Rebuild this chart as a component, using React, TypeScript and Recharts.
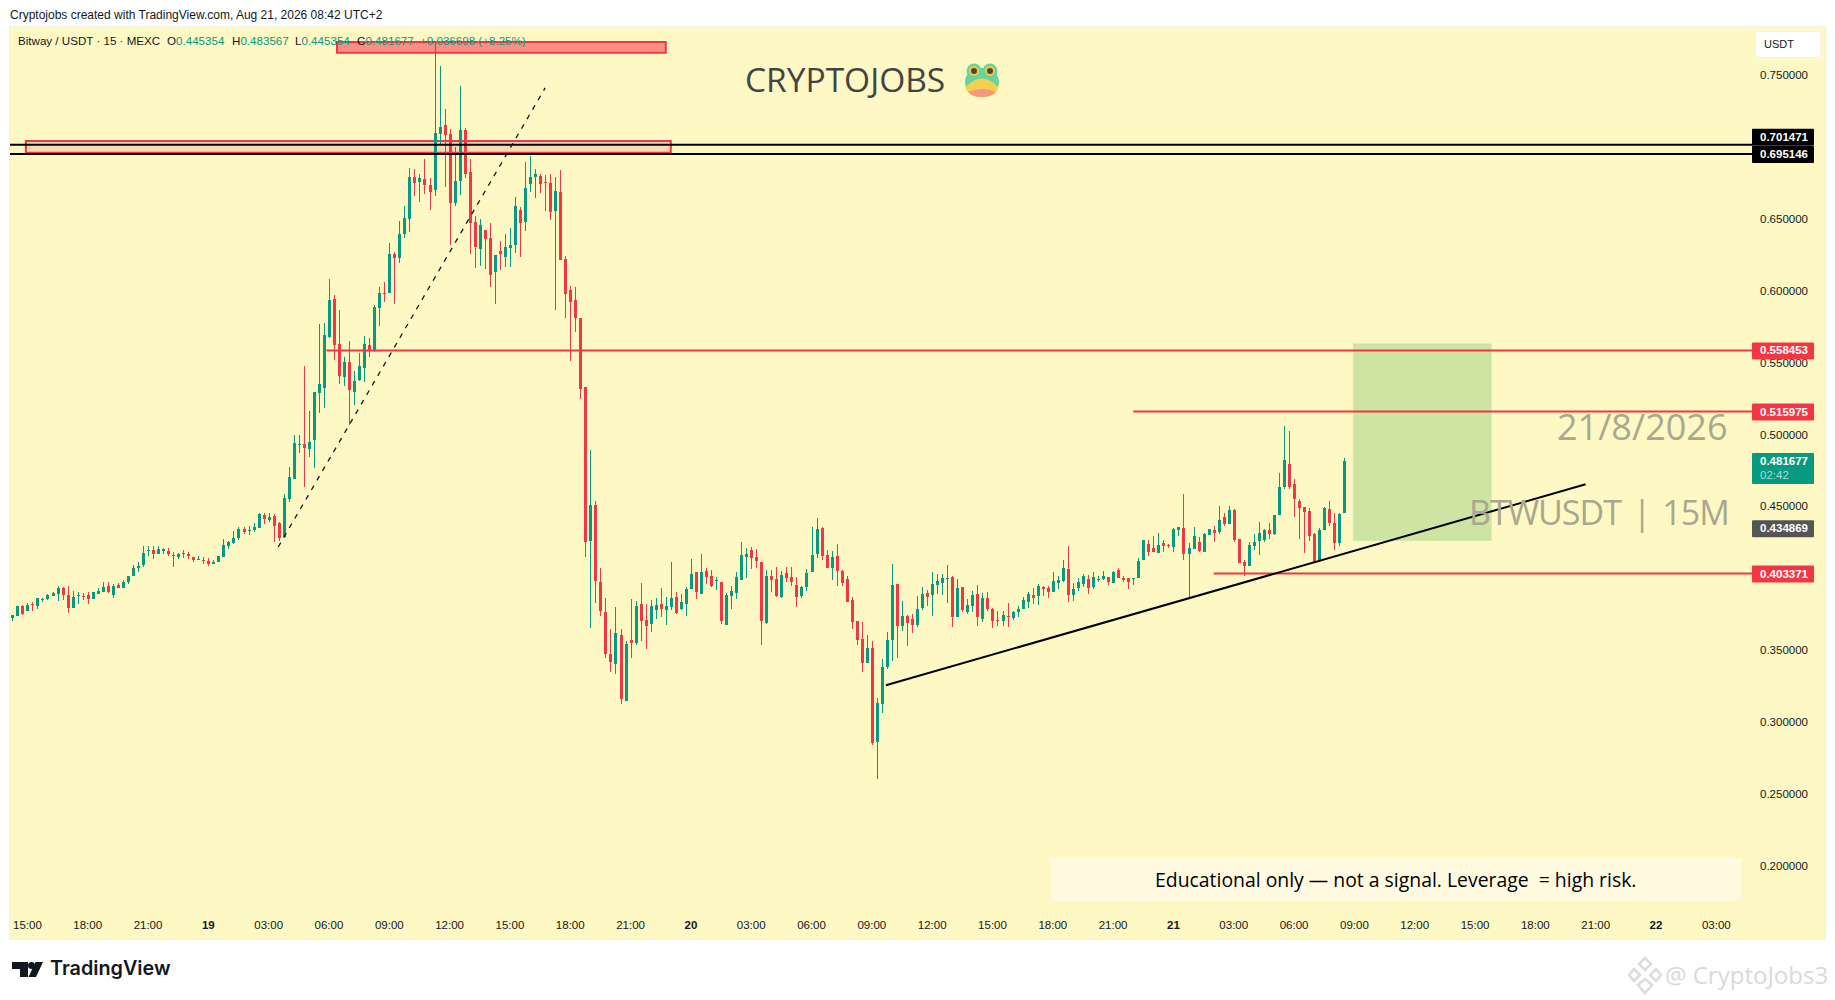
import {
  Bar,
  ComposedChart,
  ReferenceArea,
  ReferenceLine,
  XAxis,
  YAxis,
} from 'recharts';

// BTW/USDT 15m candles. Slot 0 is Aug 18 15:00.
const opens = [
  .3725, .3738, .3808, .3773, .3822, .3808, .3850, .3857, .3877, .3891,
  .3933, .3884, .3794, .3877, .3877, .3884, .3857, .3891, .3905, .3947,
  .3884, .3954, .3933, .3975, .4017, .4072, .4093, .4191, .4198, .4170,
  .4191, .4191, .4163, .4149, .4177, .4170, .4149, .4128, .4128, .4121,
  .4100, .4114, .4149, .4225, .4246, .4281, .4343, .4330, .4337, .4350,
  .4441, .4406, .4434, .4385, .4288, .4552, .4691, .4927, .4934, .4900,
  .4962, .5289, .5324, .5678, .5943, .5630, .5400, .5504, .5296, .5379,
  .5463, .5622, .5581, .5880, .5984, .5984, .6255, .6228, .6394, .6499,
  .6791, .6756, .6777, .6735, .6700, .7090, .7152, .7090, .6610, .6763,
  .7118, .6826, .6478, .6290, .6422, .6367, .6130, .6276, .6235, .6297,
  .6318, .6561, .6478, .6742, .6791, .6798, .6756, .6749, .6554, .6687,
  .6221, .6005, .5936, .5810, .5331, .4260, .4510, .3975, .3766, .3474,
  .3404, .3606, .3147, .3571, .3550, .3822, .3711, .3683, .3780, .3822,
  .3780, .3801, .3871, .3787, .3822, .3926, .4045, .3891, .4052, .4017,
  .3982, .3975, .3676, .3877, .3898, .3989, .4149, .4198, .4149, .4114,
  .3690, .4017, .3996, .3871, .4038, .4010, .3954, .3877, .3940, .4045,
  .4170, .4350, .4163, .4072, .4156, .4052, .3996, .3850, .3704, .3578,
  .3411, .3516, .2862, .3126, .3384, .3571, .3961, .3669, .3738, .3718,
  .3676, .3794, .3898, .3884, .3954, .3968, .3996, .4010, .3731, .3940,
  .3766, .3808, .3891, .3718, .3864, .3787, .3711, .3704, .3738, .3725,
  .3766, .3787, .3836, .3884, .3877, .3940, .3933, .3905, .3968, .3982,
  .4065, .3884, .3933, .3961, .3996, .3940, .3989, .3996, .4010, .3968,
  .4058, .4003, .4003, .3996, .4003, .4128, .4239, .4211, .4177, .4246,
  .4232, .4218, .4337, .4350, .4170, .4204, .4253, .4184, .4302, .4337,
  .4323, .4427, .4378, .4475, .4274, .4114, .4086, .4225, .4260, .4267,
  .4337, .4309, .4441, .4635, .4795, .4656, .4538, .4496, .4468, .4309,
  .4128, .4337, .4482, .4385, .4246, .445354,
];

const highs = [
  .3745, .3808, .3815, .3829, .3836, .3864, .3864, .3891, .3905, .3947,
  .3940, .3947, .3912, .3905, .3898, .3905, .3905, .3933, .3975, .3975,
  .3961, .3968, .3989, .4017, .4093, .4114, .4225, .4225, .4225, .4225,
  .4211, .4211, .4184, .4177, .4198, .4184, .4149, .4156, .4149, .4142,
  .4128, .4156, .4274, .4260, .4330, .4357, .4357, .4364, .4385, .4455,
  .4455, .4455, .4448, .4392, .4587, .4774, .4997, .4997, .5477, .5164,
  .5296, .5769, .5776, .6082, .5970, .5866, .5539, .5651, .5442, .5567,
  .5685, .5671, .5901, .6026, .6061, .6332, .6269, .6485, .6589, .6853,
  .6846, .6812, .6916, .6784, .7736, .7563, .7264, .7125, .7000, .7424,
  .7132, .6916, .6520, .6499, .6422, .6471, .6248, .6346, .6394, .6436,
  .6652, .6582, .6895, .6937, .6846, .6812, .6805, .6812, .6791, .6839,
  .6242, .6033, .6026, .5810, .5331, .4893, .4538, .4072, .3864, .3648,
  .3801, .3648, .3564, .3857, .3843, .3968, .3822, .3850, .3864, .3933,
  .3871, .4114, .3905, .3891, .3940, .4135, .4045, .4170, .4072, .4058,
  .4010, .3975, .3898, .3947, .4045, .4253, .4211, .4218, .4204, .4114,
  .4058, .4058, .4079, .4052, .4079, .4079, .4010, .3947, .4065, .4357,
  .4420, .4357, .4198, .4191, .4239, .4058, .4017, .3871, .3704, .3697,
  .3606, .3564, .3168, .3439, .3627, .4100, .3961, .3843, .3745, .3752,
  .3877, .3940, .3919, .4045, .4031, .4031, .4093, .4017, .3996, .3940,
  .3857, .3912, .3954, .3898, .3905, .3794, .3773, .3773, .3829, .3773,
  .3808, .3871, .3905, .3933, .3961, .3947, .3947, .4045, .4017, .4128,
  .4225, .3968, .4003, .4031, .4024, .4045, .4017, .4052, .4010, .4052,
  .4072, .4017, .4003, .4003, .4142, .4267, .4267, .4295, .4316, .4267,
  .4239, .4350, .4357, .4587, .4246, .4357, .4288, .4316, .4343, .4364,
  .4503, .4455, .4503, .4482, .4274, .4128, .4253, .4309, .4392, .4343,
  .4385, .4441, .4733, .5060, .5025, .4691, .4552, .4496, .4489, .4316,
  .4350, .4496, .4538, .4455, .4455, .483567,
];

const lows = [
  .3704, .3738, .3745, .3773, .3773, .3787, .3836, .3850, .3877, .3843,
  .3850, .3759, .3794, .3822, .3850, .3822, .3857, .3891, .3905, .3898,
  .3864, .3933, .3933, .3961, .4017, .4045, .4079, .4156, .4135, .4170,
  .4170, .4156, .4079, .4135, .4142, .4135, .4114, .4128, .4100, .4086,
  .4100, .4114, .4149, .4204, .4239, .4267, .4309, .4302, .4323, .4350,
  .4378, .4392, .4253, .4260, .4281, .4531, .4691, .4872, .4635, .4844,
  .4767, .5150, .5185, .5671, .5518, .5351, .5338, .5067, .5206, .5372,
  .5365, .5539, .5574, .5755, .5922, .5984, .5908, .6193, .6367, .6408,
  .6659, .6617, .6673, .6561, .6659, .7013, .6721, .6318, .6589, .6666,
  .6784, .6255, .6158, .6172, .6151, .6026, .5908, .6144, .6165, .6165,
  .6262, .6235, .6415, .6687, .6645, .6680, .6554, .6492, .5866, .6214,
  .5810, .5511, .5713, .5247, .4149, .3655, .3829, .3738, .3446, .3349,
  .3335, .3126, .3147, .3446, .3537, .3564, .3509, .3627, .3718, .3731,
  .3676, .3780, .3752, .3780, .3738, .3926, .3857, .3891, .3961, .3940,
  .3919, .3683, .3676, .3787, .3857, .3989, .4003, .4065, .4072, .3537,
  .3683, .3905, .3871, .3864, .3975, .3947, .3801, .3864, .3912, .4045,
  .4142, .4128, .4072, .3989, .3947, .3947, .3836, .3648, .3537, .3349,
  .3411, .2841, .2605, .3064, .3370, .3425, .3446, .3634, .3530, .3620,
  .3662, .3780, .3808, .3738, .3891, .3884, .3829, .3662, .3731, .3766,
  .3752, .3766, .3669, .3697, .3773, .3655, .3669, .3669, .3662, .3711,
  .3731, .3787, .3794, .3822, .3815, .3877, .3864, .3905, .3926, .3975,
  .3836, .3843, .3912, .3940, .3891, .3926, .3975, .3989, .3954, .3968,
  .4003, .3975, .3926, .3954, .4003, .4128, .4156, .4184, .4177, .4184,
  .4211, .4184, .4295, .4128, .3864, .4204, .4184, .4184, .4302, .4253,
  .4309, .4364, .4378, .4253, .4107, .4017, .4086, .4198, .4163, .4253,
  .4274, .4302, .4441, .4621, .4621, .4427, .4274, .4177, .4260, .4107,
  .4114, .4337, .4364, .4198, .4225, .445354,
];

const closes = [
  .3745, .3808, .3752, .3815, .3815, .3864, .3857, .3884, .3898, .3933,
  .3884, .3794, .3871, .3884, .3871, .3857, .3905, .3912, .3940, .3905,
  .3947, .3933, .3975, .4017, .4072, .4086, .4177, .4198, .4170, .4204,
  .4204, .4170, .4156, .4170, .4170, .4156, .4128, .4135, .4121, .4100,
  .4114, .4156, .4232, .4253, .4281, .4343, .4323, .4337, .4357, .4448,
  .4413, .4427, .4364, .4281, .4559, .4705, .4941, .4934, .4907, .4948,
  .5296, .5351, .5692, .5936, .5622, .5407, .5504, .5310, .5372, .5477,
  .5630, .5581, .5887, .5984, .5977, .6255, .6228, .6394, .6506, .6791,
  .6749, .6784, .6735, .6687, .7097, .7138, .7083, .6610, .6763, .7118,
  .6812, .6471, .6304, .6457, .6360, .6109, .6248, .6255, .6304, .6318,
  .6589, .6471, .6714, .6791, .6812, .6742, .6749, .6547, .6693, .6214,
  .5977, .5922, .5810, .5317, .4253, .4510, .3982, .3773, .3474, .3418,
  .3620, .3161, .3544, .3550, .3808, .3704, .3669, .3808, .3815, .3787,
  .3808, .3864, .3759, .3836, .3926, .4031, .3905, .4045, .4010, .3947,
  .3989, .3704, .3884, .3912, .4010, .4163, .4170, .4142, .4121, .3704,
  .4017, .3989, .3877, .4024, .4003, .3975, .3871, .3940, .4038, .4163,
  .4343, .4156, .4072, .4149, .4052, .3968, .3836, .3697, .3571, .3411,
  .3516, .2855, .3133, .3384, .3571, .3954, .3669, .3738, .3690, .3676,
  .3787, .3891, .3871, .3961, .3982, .4003, .4003, .3731, .3933, .3780,
  .3815, .3884, .3731, .3864, .3787, .3704, .3704, .3745, .3731, .3766,
  .3787, .3850, .3891, .3864, .3947, .3926, .3905, .3982, .3989, .4072,
  .3884, .3926, .3975, .4017, .3933, .4010, .3996, .4017, .3975, .4045,
  .4003, .3989, .3975, .4003, .4121, .4267, .4184, .4184, .4232, .4225,
  .4225, .4343, .4357, .4170, .4211, .4295, .4191, .4309, .4343, .4316,
  .4406, .4378, .4475, .4267, .4107, .4086, .4232, .4253, .4316, .4337,
  .4309, .4441, .4635, .4823, .4635, .4552, .4489, .4462, .4295, .4107,
  .4337, .4489, .4385, .4246, .4448, .481677,
];

const timeLabels = [
  '15:00', '18:00', '21:00', '19', '03:00', '06:00', '09:00', '12:00', '15:00', '18:00', '21:00',
  '20', '03:00', '06:00', '09:00', '12:00', '15:00', '18:00', '21:00',
  '21', '03:00', '06:00', '09:00', '12:00', '15:00', '18:00', '21:00',
  '22', '03:00',
];
const timeTicks = timeLabels.map((_, i) => i * 12);

const priceTicks = [0.2, 0.25, 0.3, 0.35, 0.45, 0.5, 0.55, 0.6, 0.65, 0.75];
const priceTags = [
  { value: 0.701471, color: '#000000' },
  { value: 0.695146, color: '#000000' },
  { value: 0.558453, color: '#f23645' },
  { value: 0.515975, color: '#f23645' },
  { value: 0.481677, color: '#089981' },
  { value: 0.434869, color: '#555555' },
  { value: 0.403371, color: '#f23645' },
];

const UP = '#089981';
const DOWN = '#f23645';
const FONT = '"Liberation Sans", Arial, sans-serif';
const WIDE_FONT = '"Open Sans", sans-serif';

const rows = opens.map((open, i) => ({
  slot: i - 3,
  open,
  high: highs[i],
  low: lows[i],
  close: closes[i],
}));

function Candle(props: any) {
  const { x, y, width, height, payload } = props;
  const { open, high, low, close } = payload;
  const color = close >= open ? UP : DOWN;
  const perPrice = height / (high - low);
  const top = y + (high - Math.max(open, close)) * perPrice;
  const bodyH = Math.max(1, Math.abs(open - close) * perPrice);
  const mid = Math.round(x + width / 2);
  return (
    <g shapeRendering="crispEdges">
      <rect x={mid} y={y} width={1} height={height} fill={color} />
      <rect x={mid - 1} y={top} width={3} height={bodyH} fill={color} />
    </g>
  );
}

function TimeTick({ x, y, payload }: any) {
  const label = timeLabels[timeTicks.indexOf(payload.value)] ?? '';
  const isDay = label.length < 3;
  return (
    <text x={x} y={y + 16} textAnchor="middle" fontFamily={FONT} fontSize={11.5} fontWeight={isDay ? 700 : 400} fill="#131722">
      {label}
    </text>
  );
}

function PriceTick({ x, y, payload }: any) {
  const value = payload.value;
  const tag = priceTags.find((t) => t.value === value);
  if (!tag) {
    return (
      <text x={x + 7} y={y + 4} fontFamily={FONT} fontSize={11.5} fill="#131722">
        {value.toFixed(6)}
      </text>
    );
  }
  const isLast = value === 0.481677;
  const shift = value === 0.701471 ? -8 : 0;
  return (
    <g>
      <rect x={x - 1} y={y + shift - 8} width={62} height={isLast ? 31 : 17} rx={1} fill={tag.color} />
      <text x={x + 7} y={y + shift + 4} fontFamily={FONT} fontSize={11.5} fontWeight={700} fill="#ffffff">
        {value.toFixed(6)}
      </text>
      {isLast && (
        <text x={x + 7} y={y + 18} fontFamily={FONT} fontSize={11.5} fill="#a6dccf">
          02:42
        </text>
      )}
    </g>
  );
}

function Frog() {
  return (
    <svg width={36} height={36} viewBox="0 0 36 36" style={{ position: 'absolute', left: 964, top: 62 }}>
      <circle cx={10} cy={9} r={7.5} fill="#62d6a0" />
      <circle cx={26} cy={9} r={7.5} fill="#62d6a0" />
      <ellipse cx={18} cy={20} rx={17} ry={14} fill="#62d6a0" />
      <circle cx={10} cy={9} r={5} fill="#f5c842" />
      <circle cx={26} cy={9} r={5} fill="#f5c842" />
      <circle cx={10} cy={9} r={3} fill="#4a4a3a" />
      <circle cx={26} cy={9} r={3} fill="#4a4a3a" />
      <path d="M1.5 25 Q18 8 34.5 25 Q32 35 18 35 Q4 35 1.5 25 Z" fill="#f5cf4f" />
      <path d="M4 30 Q18 24 32 30 Q28 35 18 35 Q8 35 4 30 Z" fill="#f59a78" />
    </svg>
  );
}

function Logo() {
  return (
    <svg width={36} height={20} viewBox="0 0 36 20" style={{ position: 'absolute', left: 11, top: 960 }}>
      <path d="M1 2 H17 V17 H9 V9 H1 Z" fill="#131722" />
      <circle cx={20.5} cy={5.5} r={3.5} fill="#131722" />
      <path d="M24.5 2 H32 L25 17 H17.5 Z" fill="#131722" />
    </svg>
  );
}

function Mark() {
  return (
    <svg width={34} height={40} viewBox="0 0 34 40" style={{ position: 'absolute', left: 1628, top: 955 }}>
      <g fill="none" stroke="#dcdcdc" strokeWidth={2.5}>
        <path d="M17 3 L23 9 L17 15 L11 9 Z" />
        <path d="M6 14 L12 20 L6 26 L1 20 Z" />
        <path d="M28 14 L33 20 L28 26 L22 20 Z" />
        <path d="M17 24 L24 30 L17 38 L10 30 Z" />
      </g>
    </svg>
  );
}

function Txt({ left, top, size, color, children, family = FONT, weight = 400, spacing = 0, wordSpacing = 0 }: any) {
  return (
    <div
      style={{
        position: 'absolute',
        left,
        top,
        fontFamily: family,
        fontSize: size,
        fontWeight: weight,
        color,
        letterSpacing: spacing,
        wordSpacing,
        whiteSpace: 'pre',
        lineHeight: 1,
      }}
    >
      {children}
    </div>
  );
}

export default function App() {
  return (
    <div style={{ position: 'absolute', left: 0, top: 0, width: 1835, height: 1000, background: '#ffffff', overflow: 'hidden' }}>
      <div style={{ position: 'absolute', left: 9, top: 26, width: 1815, height: 912, background: '#fef8c4', border: '1px solid #f2f1e6' }} />

      <div style={{ position: 'absolute', left: 0, top: 0 }}>
        <ComposedChart
          width={1835}
          height={1000}
          data={rows}
          margin={{ top: 27, right: 10, bottom: 62, left: 10 }}
        >
          <XAxis
            dataKey="slot"
            type="number"
            domain={[-3.46, 343.3]}
            allowDataOverflow
            ticks={timeTicks}
            interval={0}
            height={33}
            axisLine={false}
            tickLine={false}
            tick={<TimeTick />}
          />
          <YAxis
            orientation="right"
            width={72}
            type="number"
            domain={[0.17289, 0.78337]}
            allowDataOverflow
            ticks={[...priceTicks, ...priceTags.map((t) => t.value)]}
            interval={0}
            axisLine={false}
            tickLine={false}
            tickSize={0}
            tickMargin={0}
            tick={<PriceTick />}
          />

          <ReferenceArea x1={61.6} x2={127} y1={0.7655} y2={0.7729} fill="#f98f84" fillOpacity={1} stroke="#f23645" strokeWidth={2} />
          <ReferenceArea x1={-0.3} x2={128} y1={0.696} y2={0.7041} fill="#fcdcb8" fillOpacity={1} stroke="#f23645" strokeWidth={2} />
          <ReferenceArea x1={263.8} x2={291.2} y1={0.4264} y2={0.563} fill="#cee4a3" fillOpacity={1} stroke="#d3e6a9" />

          <Bar dataKey={(d: any) => [d.low, d.high]} barSize={3} shape={<Candle />} isAnimationActive={false} />

          <ReferenceLine y={0.701471} stroke="#000000" strokeWidth={2} />
          <ReferenceLine y={0.695146} stroke="#000000" strokeWidth={2} />
          <ReferenceLine segment={[{ x: 59.5, y: 0.558453 }, { x: 343.3, y: 0.558453 }]} stroke="#f23645" strokeWidth={2} />
          <ReferenceLine segment={[{ x: 220, y: 0.515975 }, { x: 343.3, y: 0.515975 }]} stroke="#f23645" strokeWidth={2} />
          <ReferenceLine segment={[{ x: 236, y: 0.403371 }, { x: 343.3, y: 0.403371 }]} stroke="#f23645" strokeWidth={2} />
          <ReferenceLine segment={[{ x: 170.8, y: 0.3257 }, { x: 310, y: 0.4654 }]} stroke="#000000" strokeWidth={2} />
          <ReferenceLine segment={[{ x: 49.9, y: 0.4218 }, { x: 103, y: 0.741 }]} stroke="#131722" strokeWidth={1.3} strokeDasharray="5 6" />
        </ComposedChart>
      </div>

      <Txt left={10} top={9} size={12} color="#131722">Cryptojobs created with TradingView.com, Aug 21, 2026 08:42 UTC+2</Txt>

      <Txt left={18} top={35} size={11.6} color="#131722">Bitway / USDT · 15 · MEXC</Txt>
      <Txt left={167} top={35} size={11.6} color="#131722">O<span style={{ color: UP }}>0.445354</span></Txt>
      <Txt left={232} top={35} size={11.6} color="#131722">H<span style={{ color: UP }}>0.483567</span></Txt>
      <Txt left={295} top={35} size={11.6} color="#131722">L<span style={{ color: UP }}>0.445354</span></Txt>
      <Txt left={357} top={35} size={11.6} color="#131722">C<span style={{ color: UP }}>0.481677</span></Txt>
      <Txt left={420} top={35} size={11.6} color={UP}>+0.036698 (+8.25%)</Txt>

      <Txt left={745} top={63} size={33.5} color="#444444" family={WIDE_FONT}>CRYPTOJOBS</Txt>
      <Frog />

      <Txt left={1557} top={409} size={36} color="#a9a88f" family={WIDE_FONT}>21/8/2026</Txt>
      <Txt left={1469} top={495} size={34} color="#a9a88f" family={WIDE_FONT} spacing={-1} wordSpacing={4}>BTWUSDT | 15M</Txt>

      <div style={{ position: 'absolute', left: 1051, top: 858, width: 690, height: 43, background: '#fffae0' }} />
      <Txt left={1155} top={870} size={19.4} color="#000000" family={WIDE_FONT}>Educational only — not a signal. Leverage  = high risk.</Txt>

      <div style={{ position: 'absolute', left: 1755, top: 31, width: 64, height: 25, background: '#ffffff', border: '1px solid #f3f3ee', borderRadius: 3 }} />
      <Txt left={1764} top={39} size={11} color="#131722">USDT</Txt>

      <Logo />
      <Txt left={50} top={959} size={19.8} color="#131722" family="Inter, sans-serif" weight={600}>TradingView</Txt>

      <Mark />
      <Txt left={1665} top={963} size={24} color="#d9d9d9" family={WIDE_FONT}>@ CryptoJobs3</Txt>
    </div>
  );
}
